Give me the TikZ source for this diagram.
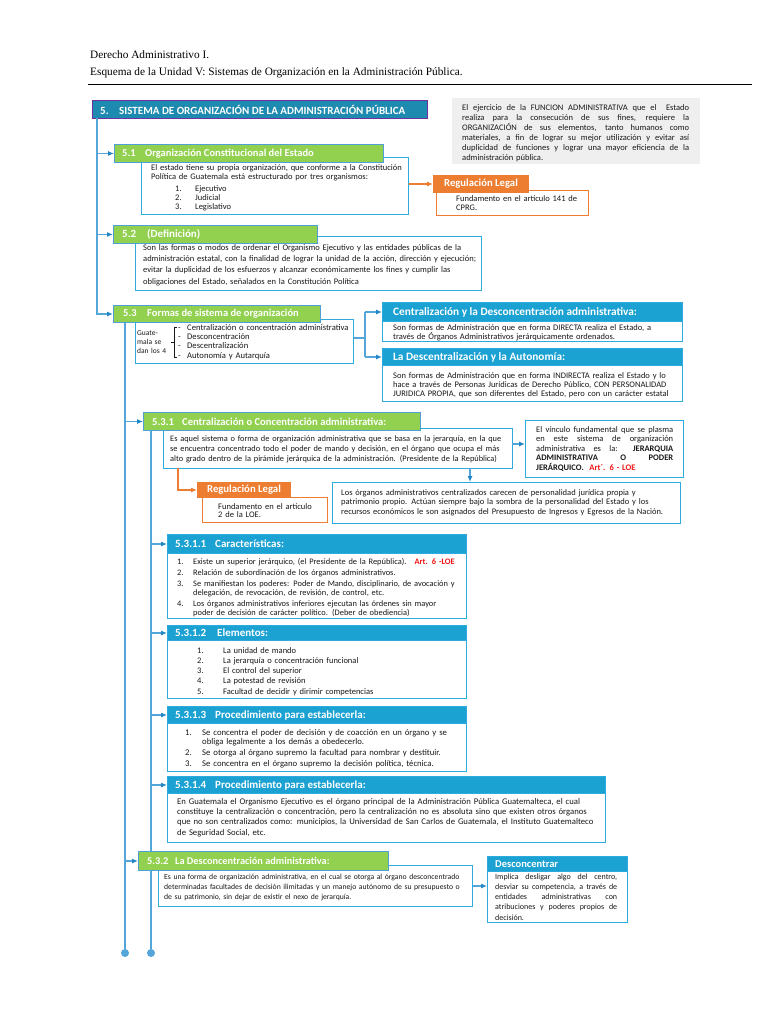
\documentclass[tikz,border=0pt]{standalone}
\usepackage{fontspec}
\setmainfont{Carlito}
\newfontfamily\serifhead{Liberation Serif}
\usetikzlibrary{arrows.meta}
\definecolor{lineblue}{RGB}{84,165,218}
\definecolor{arrowblue}{RGB}{35,135,195}
\definecolor{hdrblue}{RGB}{27,161,210}
\definecolor{boxblue}{RGB}{45,170,222}
\definecolor{titlefill}{RGB}{30,138,175}
\definecolor{titleborder}{RGB}{112,48,160}
\definecolor{hdrgreen}{RGB}{146,208,80}
\definecolor{greenborder}{RGB}{80,160,215}
\definecolor{orng}{RGB}{237,125,49}
\definecolor{greyfill}{RGB}{239,239,239}
\definecolor{artred}{RGB}{240,20,20}
\definecolor{ink}{RGB}{25,25,25}
\newcommand\jl[2]{\makebox[#1][s]{\spaceskip=0pt\xspaceskip=0pt\relax #2}}
\begin{document}
\begin{tikzpicture}[x=1pt,y=-1pt,
 box/.style={draw=boxblue,line width=1pt,fill=white,inner sep=0pt,anchor=north west},
 obox/.style={draw=orng,line width=1pt,fill=white,inner sep=0pt,anchor=north west},
 gbox/.style={fill=greyfill,draw=none,inner sep=0pt,anchor=north west},
 wh/.style 2 args={minimum width=#1,minimum height=#2},
 hdr/.style={anchor=north west,inner sep=0pt,line width=1pt},
 hdrg/.style={hdr,fill=hdrgreen,draw=greenborder},
 hdrb/.style={hdr,fill=hdrblue,draw=boxblue},
 hdro/.style={hdr,fill=orng,draw=orng},
 hlab/.style={anchor=west,inner sep=0pt,text=white,font=\fontsize{11}{12}\selectfont\bfseries},
 glab/.style={hlab,font=\fontsize{10.5}{12}\selectfont\bfseries},
 txt/.style={inner sep=0pt,anchor=north west,text width=#1,text=ink,font=\fontsize{8.5}{9.5}\selectfont,execute at begin node=\rule{0pt}{7pt}},
 trunk/.style={draw=lineblue,line width=1.1pt},
 arr/.style={draw=lineblue,line width=1.1pt,-{Latex[length=6pt,width=5pt,color=arrowblue]}},
 oarr/.style={draw=orng,line width=1.1pt,-{Latex[length=6pt,width=5pt]}},
 dot/.style={circle,fill=lineblue,inner sep=0pt,minimum size=8pt}
]
\useasboundingbox (0,0) rectangle (768,1024);
\fill[white] (0,0) rectangle (768,1024);

% page header
\node[anchor=base west,inner sep=0pt,font=\serifhead\fontsize{11.3}{13}\selectfont] (hd1) at (90,59) {Derecho Administrativo I.};
\node[anchor=base west,inner sep=0pt,font=\serifhead\fontsize{11.3}{13}\selectfont] (hd2) at (90,76) {Esquema de la Unidad V: Sistemas de Organización en la Administración Pública.};
\draw[line width=0.8pt] (88,84) -- (752,84);

% title
\node[hdr,fill=titlefill,draw=titleborder,line width=1.2pt,wh={335pt}{18pt}] (title) at (92,100) {};
\node[hlab,font=\fontsize{11}{12}\selectfont\bfseries] (titlet) at ([xshift=8pt]title.west) {\makebox[19pt][l]{5.}SISTEMA DE ORGANIZACIÓN DE LA ADMINISTRACIÓN PÚBLICA};

% grey box
\node[gbox,wh={248pt}{66pt}] (grey) at (452,98) {};
\node[txt=240pt,font=\fontsize{8.5}{10}\selectfont] (greyt) at (462,103) {\jl{227pt}{El ejercicio de la FUNCION ADMINISTRATIVA que el \ Estado}\\
\jl{227pt}{realiza para la consecución de sus fines, requiere la}\\
\jl{227pt}{ORGANIZACIÓN de sus elementos, tanto humanos como}\\
\jl{227pt}{materiales, a fin de lograr su mejor utilización y evitar así}\\
\jl{227pt}{duplicidad de funciones y lograr una mayor eficiencia de la}\\
administración pública.};

% 5.1
\node[box,wh={267pt}{57pt}] (c51) at (141,157) {};
\node[hdrg,wh={269pt}{18pt}] (h51) at (114,144) {};
\node[glab] (h51t) at ([xshift=8pt]h51.west) {\makebox[23pt][l]{5.1}Organización Constitucional del Estado};
\node[txt=300pt,font=\fontsize{8.5}{9.2}\selectfont] (c51t) at (151,163) {El estado tiene su propia organización, que conforme a la Constitución\\
Política de Guatemala está estructurado por tres organismos:\\[2.5pt]
\hspace*{24pt}\makebox[20pt][l]{1.}Ejecutivo\\
\hspace*{24pt}\makebox[20pt][l]{2.}Judicial\\
\hspace*{24pt}\makebox[20pt][l]{3.}Legislativo};

% Regulacion legal 1
\node[obox,wh={152pt}{25pt}] (reg1c) at (436,190) {};
\node[hdro,wh={95pt}{17pt}] (reg1h) at (433,175) {};
\node[hlab,anchor=center,font=\fontsize{10.7}{12}\selectfont\bfseries] (reg1l) at (reg1h.center) {Regulación Legal};
\node[txt=200pt,font=\fontsize{8.5}{9}\selectfont] (reg1t) at (456,194) {Fundamento en el artículo 141 de\\CPRG.};

% 5.2
\node[box,wh={346pt}{54pt}] (c52) at (135,236) {};
\node[hdrg,wh={204pt}{18pt}] (h52) at (113,225) {};
\node[hlab] (h52t) at ([xshift=9pt]h52.west) {\makebox[25pt][l]{5.2}(Definición)};
\node[txt=400pt,font=\fontsize{8.5}{11.3}\selectfont] (c52t) at (143,243) {Son las formas o modos de ordenar el Organismo Ejecutivo y las entidades públicas de la\\
administración estatal, con la finalidad de lograr la unidad de la acción, dirección y ejecución;\\
evitar la duplicidad de los esfuerzos y alcanzar económicamente los fines y cumplir las\\
obligaciones del Estado, señalados en la Constitución Política};

% 5.3
\node[box,wh={218pt}{44pt}] (c53) at (135,319) {};
\node[hdrg,wh={207pt}{17pt}] (h53) at (113,305) {};
\node[glab] (h53t) at ([xshift=10pt]h53.west) {\makebox[24pt][l]{5.3}Formas de sistema de organización};
\node[txt=60pt,font=\fontsize{7.5}{9}\selectfont] (guate) at (137,328) {Guate-\\mala se\\dan los 4};
\draw[line width=0.6pt,ink] (177,327) -- (174,327) -- (174,357) -- (177,357) (174,342) -- (171,342);
\node[txt=250pt,font=\fontsize{8.6}{9.3}\selectfont] (c53t) at (178,323) {\makebox[9pt][l]{-}Centralización o concentración administrativa\\
\makebox[9pt][l]{-}Desconcentración\\
\makebox[9pt][l]{-}Descentralización\\
\makebox[9pt][l]{-}Autonomía y Autarquía};

% blue boxes right
\node[box,wh={300pt}{20pt}] (b1c) at (382,321) {};
\node[hdrb,wh={300pt}{19pt}] (b1h) at (382,302) {};
\node[hlab,font=\fontsize{11.3}{12}\selectfont\bfseries] (b1l) at ([xshift=11pt]b1h.west) {Centralización y la Desconcentración administrativa:};
\node[txt=350pt,font=\fontsize{8.5}{9}\selectfont] (b1t) at (393,323) {Son formas de Administración que en forma DIRECTA realiza el Estado, a\\
través de Órganos Administrativos jerárquicamente ordenados.};
\node[box,wh={300pt}{36pt}] (b2c) at (382,365) {};
\node[hdrb,wh={300pt}{17pt}] (b2h) at (382,348) {};
\node[hlab,font=\fontsize{11.3}{12}\selectfont\bfseries] (b2l) at ([xshift=11pt]b2h.west) {La Descentralización y la Autonomía:};
\node[txt=350pt,font=\fontsize{8.5}{9}\selectfont] (b2t) at (393,371) {Son formas de Administración que en forma INDIRECTA realiza el Estado y lo\\
hace a través de Personas Jurídicas de Derecho Público, CON PERSONALIDAD\\
JURIDICA PROPIA, que son diferentes del Estado, pero con un carácter estatal};

% 5.3.1
\node[box,wh={349pt}{40pt}] (c531) at (163,428) {};
\node[hdrg,wh={277pt}{18pt}] (h531) at (143,412) {};
\node[glab,font=\fontsize{10.6}{12}\selectfont\bfseries] (h531t) at ([xshift=9pt]h531.west) {\makebox[30pt][l]{5.3.1}Centralización o Concentración administrativa:};
\node[txt=400pt,font=\fontsize{8.35}{10}\selectfont] (c531t) at (170,434) {Es aquel sistema o forma de organización administrativa que se basa en la jerarquía, en la que\\
se encuentra concentrado todo el poder de mando y decisión, en el órgano que ocupa el más\\
alto grado dentro de la pirámide jerárquica de la administración. (Presidente de la República)};

% vinculo
\node[box,wh={158pt}{57pt}] (vin) at (525,420) {};
\node[txt=160pt,font=\fontsize{8.5}{9.5}\selectfont] (vint) at (536,425) {\jl{137pt}{El vínculo fundamental que se plasma}\\
\jl{137pt}{en este sistema de organización}\\
\jl{137pt}{administrativa es la: \textbf{JERARQUIA}}\\
\jl{137pt}{\textbf{ADMINISTRATIVA O PODER}}\\
\textbf{JERÁRQUICO.} \ \textcolor{artred}{\textbf{Art´. 6 - LOE}}};

% Regulacion legal 2
\node[obox,wh={125pt}{25pt}] (reg2c) at (202,497) {};
\node[hdro,wh={93pt}{15pt}] (reg2h) at (197,482) {};
\node[hlab,anchor=center,font=\fontsize{10.7}{12}\selectfont\bfseries] (reg2l) at (reg2h.center) {Regulación Legal};
\node[txt=150pt,font=\fontsize{8.5}{8.5}\selectfont] (reg2t) at (218,502) {Fundamento en el artículo\\2 de la LOE.};

% organos
\node[box,wh={348pt}{41pt}] (org) at (332,482) {};
\node[txt=400pt] (orgt) at (341,488) {Los órganos administrativos centralizados carecen de personalidad jurídica propia y\\
patrimonio propio. Actúan siempre bajo la sombra de la personalidad del Estado y los\\
recursos económicos le son asignados del Presupuesto de Ingresos y Egresos de la Nación.};

% 5.3.1.1
\node[box,wh={299pt}{65pt}] (c5311) at (167,553) {};
\node[hdrb,wh={299pt}{19pt}] (h5311) at (167,534) {};
\node[hlab] (h5311t) at ([xshift=8pt]h5311.west) {\makebox[40pt][l]{5.3.1.1}Características:};
\node[txt=350pt,font=\fontsize{8.4}{9}\selectfont] (c5311t) at (177,557) {\makebox[16pt][l]{1.}Existe un superior jerárquico, (el Presidente de la República).\hspace{8pt}\textcolor{artred}{\textbf{Art. 6 -LOE}}\\[2pt]
\makebox[16pt][l]{2.}Relación de subordinación de los órganos administrativos.\\[2pt]
\makebox[16pt][l]{3.}Se manifiestan los poderes: Poder de Mando, disciplinario, de avocación y\\
\hspace*{16pt}delegación, de revocación, de revisión, de control, etc.\\[2pt]
\makebox[16pt][l]{4.}Los órganos administrativos inferiores ejecutan las órdenes sin mayor\\
\hspace*{16pt}poder de decisión de carácter político. (Deber de obediencia)};

% 5.3.1.2
\node[box,wh={299pt}{58pt}] (c5312) at (167,640) {};
\node[hdrb,wh={299pt}{15pt}] (h5312) at (167,625) {};
\node[hlab] (h5312t) at ([xshift=8pt]h5312.west) {\makebox[42pt][l]{5.3.1.2}Elementos:};
\node[txt=300pt,font=\fontsize{8.5}{10.2}\selectfont] (c5312t) at (197,646) {\makebox[26pt][l]{1.}La unidad de mando\\
\makebox[26pt][l]{2.}La jerarquía o concentración funcional\\
\makebox[26pt][l]{3.}El control del superior\\
\makebox[26pt][l]{4.}La potestad de revisión\\
\makebox[26pt][l]{5.}Facultad de decidir y dirimir competencias};

% 5.3.1.3
\node[box,wh={299pt}{48pt}] (c5313) at (167,723) {};
\node[hdrb,wh={299pt}{17pt}] (h5313) at (167,706) {};
\node[hlab] (h5313t) at ([xshift=8pt]h5313.west) {\makebox[40pt][l]{5.3.1.3}Procedimiento para establecerla:};
\node[txt=350pt,font=\fontsize{8.7}{9}\selectfont] (c5313t) at (185,728) {\makebox[17pt][l]{1.}Se concentra el poder de decisión y de coacción en un órgano y se\\
\hspace*{17pt}obliga legalmente a los demás a obedecerlo.\\[2pt]
\makebox[17pt][l]{2.}Se otorga al órgano supremo la facultad para nombrar y destituir.\\[2pt]
\makebox[17pt][l]{3.}Se concentra en el órgano supremo la decisión política, técnica.};

% 5.3.1.4
\node[box,wh={438pt}{49pt}] (c5314) at (167,793) {};
\node[hdrb,wh={438pt}{17pt}] (h5314) at (167,776) {};
\node[hlab] (h5314t) at ([xshift=8pt]h5314.west) {\makebox[40pt][l]{5.3.1.4}Procedimiento para establecerla:};
\node[txt=480pt,font=\fontsize{8.7}{10.3}\selectfont] (c5314t) at (177,797) {En Guatemala el Organismo Ejecutivo es el órgano principal de la Administración Pública Guatemalteca, el cual\\
constituye la centralización o concentración, pero la centralización no es absoluta sino que existen otros órganos\\
que no son centralizados como: municipios, la Universidad de San Carlos de Guatemala, el Instituto Guatemalteco\\
de Seguridad Social, etc.};

% 5.3.2
\node[box,wh={314pt}{41pt}] (c532) at (158,865) {};
\node[hdrg,wh={250pt}{19pt}] (h532) at (138,851) {};
\node[glab,font=\fontsize{10.3}{11}\selectfont\bfseries] (h532t) at ([xshift=9pt]h532.west) {\makebox[28pt][l]{5.3.2}La Desconcentración administrativa:};
\node[txt=360pt,font=\fontsize{7.7}{10}\selectfont] (c532t) at (164,872) {Es una forma de organización administrativa, en el cual se otorga al órgano desconcentrado\\
determinadas facultades de decisión ilimitadas y un manejo autónomo de su presupuesto o\\
de su patrimonio, sin dejar de existir el nexo de jerarquía.};

% Desconcentrar
\node[box,wh={140pt}{51pt}] (desc) at (487,871) {};
\node[hdrb,wh={140pt}{15pt}] (desh) at (487,856) {};
\node[hlab,font=\fontsize{10.5}{11}\selectfont\bfseries] (desl) at ([xshift=8pt]desh.west) {Desconcentrar};
\node[txt=150pt,font=\fontsize{8}{10.2}\selectfont] (desct) at (495,872) {\jl{122pt}{Implica desligar algo del centro,}\\
\jl{122pt}{desviar su competencia, a través de}\\
\jl{122pt}{entidades administrativas con}\\
\jl{122pt}{atribuciones y poderes propios de}\\
decisión.};

% trunks
\coordinate (t1top) at (97,118);
\draw[arr] (t1top) |- (h53.west);
\draw[arr] (t1top |- h51.west) -- (h51.west);
\draw[arr] (t1top |- h52.west) -- (h52.west);

\coordinate (t2top) at (125,322);
\node[dot] (d1) at (125,953) {};
\draw[trunk] (t2top) -- (d1);
\draw[arr] (t2top |- h531.west) -- (h531.west);
\draw[arr] (t2top |- h532.west) -- (h532.west);

\coordinate (t3top) at (151,430);
\node[dot] (d2) at (151,953) {};
\draw[trunk] (t3top) -- (h532.north -| t3top);
\draw[trunk] (h532.south -| t3top) -- (d2);
\draw[arr] (t3top |- h5311.west) -- (h5311.west);
\draw[arr] (t3top |- h5312.west) -- (h5312.west);
\draw[arr] (t3top |- h5313.west) -- (h5313.west);
\draw[arr] (t3top |- h5314.west) -- (h5314.west);

% other connectors
\draw[oarr] (c51.east |- reg1h.west) -- (reg1h.west);
\coordinate (fork) at (365,338);
\draw[trunk] (c53.east |- fork) -- (fork);
\draw[trunk] (fork |- b1h.west) -- (fork |- b2h.west);
\draw[arr] (fork |- b1h.west) -- (b1h.west);
\draw[arr] (fork |- b2h.west) -- (b2h.west);
\coordinate (rc) at (512,444);
\draw[arr] (rc) -- (vin.west |- rc);
\coordinate (dn) at (470,468);
\draw[arr] (dn) -- (dn |- org.north);
\coordinate (oc) at (178,468);
\draw[oarr] (oc) |- (reg2h.west);
\draw[arr] (c532.east) -- (desc.west |- c532.east);
\end{tikzpicture}
\end{document}
